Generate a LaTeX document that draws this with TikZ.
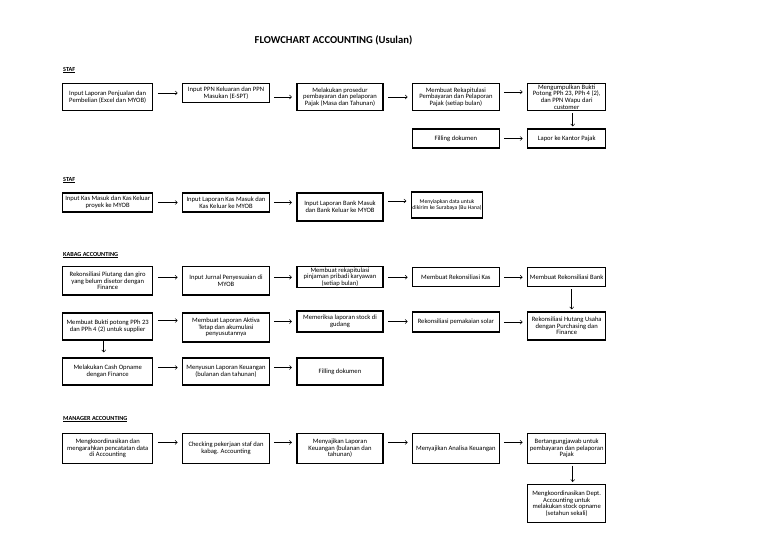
\documentclass[tikz,border=0pt]{standalone}
\usepackage{fontspec}
\setmainfont{Carlito}
\usetikzlibrary{arrows.meta}

\tikzset{
  box/.style={draw, line width=1.1pt, align=center, inner sep=1pt,
    font=\fontsize{6.6}{6.6}\selectfont},
  sz/.style 2 args={minimum width=#1pt, minimum height=#2pt},
  lane/.style={anchor=west, inner sep=0pt, font=\fontsize{6.2}{7}\selectfont\bfseries},
  vert/.style={shorten <=2pt, shorten >=2pt}
}

\begin{document}
\begin{tikzpicture}[x=1pt,y=-1pt]
        \useasboundingbox (0,0) rectangle (768,543);

        \node (title) at (333.5,40) {\fontsize{10.6}{12}\selectfont\bfseries FLOWCHART ACCOUNTING (Usulan)};

        \node[lane] (staf1)   at (63,70)  {\underline{STAF}};
        \node[lane] (staf2)   at (63,180) {\underline{STAF}};
        \node[lane] (kabag)   at (63,255) {\underline{KABAG ACCOUNTING}};
        \node[lane] (manager) at (63,419) {\underline{MANAGER ACCOUNTING}};

        \begin{scope}[every node/.style={box}]
          % staf pajak
          \node[sz={90}{27.4}] (A1) at (107.7,97) {Input Laporan Penjualan dan\\Pembelian (Excel dan MYOB)};
          \node[sz={86.6}{19.4}] (A2) at (226,93) {Input PPN Keluaran dan PPN\\Masukan (E-SPT)};
          \node[sz={86}{27.4}] (A3) at (340,97) {Melakukan prosedur\\pembayaran dan pelaporan\\Pajak (Masa dan Tahunan)};
          \node[sz={86.3}{27.4}] (A4) at (455.9,97) {Membuat Rekapitulasi\\Pembayaran dan Pelaporan\\Pajak (setiap bulan)};
          \node[sz={78}{27.4}] (A5) at (566.7,97) {Mengumpulkan Bukti\\Potong PPh 23, PPh 4 (2),\\dan PPN Wapu dari\\customer};
          \node[sz={86.3}{19}] (A6) at (455.9,138.5) {Filling dokumen};
          \node[sz={78}{19}] (A7) at (566.7,138.5) {Lapor ke Kantor Pajak};

          % staf kas dan bank
          \node[sz={90}{19}] (B1) at (107.7,202.5) {Input Kas Masuk dan Kas Keluar\\proyek ke MYOB};
          \node[sz={86.6}{19}] (B2) at (226,202.5) {Input Laporan Kas Masuk dan\\Kas Keluar ke MYOB};
          \node[sz={86}{28}] (B3) at (340,207) {Input Laporan Bank Masuk\\dan Bank Keluar ke MYOB};
          \node[sz={69.2}{26}, font=\fontsize{5.7}{6.4}\selectfont] (B4) at (447,205) {Menyiapkan data untuk\\dikirim ke Surabaya (Bu Hana)};

          % kabag
          \node[sz={90}{28.3}] (C1) at (107.7,280.8) {Rekonsiliasi Piutang dan giro\\yang belum disetor dengan\\Finance};
          \node[sz={86.6}{28.3}] (C2) at (226,280.8) {Input Jurnal Penyesuaian di\\MYOB};
          \node[sz={86}{21}] (C3) at (340,277.2) {Membuat rekapitulasi\\pinjaman pribadi karyawan\\(setiap bulan)};
          \node[sz={86.3}{19}] (C4) at (455.9,277.2) {Membuat Rekonsiliasi Kas};
          \node[sz={78}{19}] (C5) at (566.7,277.2) {Membuat Rekonsiliasi Bank};

          \node[sz={90}{27}] (D1) at (107.7,326.5) {Membuat Bukti potong PPh 23\\dan PPh 4 (2) untuk supplier};
          \node[sz={86.6}{29}] (D2) at (226,327.5) {Membuat Laporan Aktiva\\Tetap dan akumulasi\\penyusutannya};
          \node[sz={86}{21}] (D3) at (340,321.5) {Memeriksa laporan stock di\\gudang};
          \node[sz={86.3}{20}] (D4) at (455.9,322) {Rekonsiliasi pemakaian solar};
          \node[sz={78}{28}] (D5) at (566.7,326) {Rekonsiliasi Hutang Usaha\\dengan Purchasing dan\\Finance};

          \node[sz={90}{27}] (E1) at (107.7,371.5) {Melakukan Cash Opname\\dengan Finance};
          \node[sz={86.6}{27}] (E2) at (226,371.5) {Menyusun Laporan Keuangan\\(bulanan dan tahunan)};
          \node[sz={86}{27}] (E3) at (340,371.5) {Filling dokumen};

          % manager
          \node[sz={90}{29.3}] (F1) at (107.7,448.4) {Mengkoordinasikan dan\\mengarahkan pencatatan data\\di Accounting};
          \node[sz={86.6}{29.3}] (F2) at (226,448.4) {Checking pekerjaan staf dan\\kabag. Accounting};
          \node[sz={86}{29.3}] (F3) at (340,448.4) {Menyajikan Laporan\\Keuangan (bulanan dan\\tahunan)};
          \node[sz={86.3}{29.3}] (F4) at (455.9,448.4) {Menyajikan Analisa Keuangan};
          \node[sz={78}{29.3}] (F5) at (566.7,448.4) {Bertangungjawab untuk\\pembayaran dan pelaporan\\Pajak};
          \node[sz={78}{38}] (F6) at (566.7,503.6) {Mengkoordinasikan Dept.\\Accounting untuk\\melakukan stock opname\\(setahun sekali)};
        \end{scope}

        \begin{scope}[every edge/.style={draw, line width=.5pt,
            -{Straight Barb[length=2.2pt,width=4pt]}, shorten <=4.5pt, shorten >=4.5pt}]
          \path (A2.west -| A1.east) edge (A2.west);
          \path (A2.east |- A3.west) edge (A3.west);
          \path (A3) edge (A4);
          \path ([yshift=5pt]A4.east) edge ([yshift=5pt]A5.west);
          \path ([xshift=6pt]A5.south) edge[vert] ([xshift=6pt]A7.north);
          \path (A6) edge (A7);

          \path (B1) edge (B2);
          \path (B2.east) edge (B2.east -| B3.west);
          \path ([yshift=6pt]B3.east) edge ([yshift=6pt]B3.east -| B4.west);

          \path ([yshift=3.5pt]C1.east) edge ([yshift=3.5pt]C2.west);
          \path (C2.east |- C3.west) edge (C3.west);
          \path (C3) edge (C4);
          \path (C4) edge (C5);
          \path ([xshift=5pt]C5.south) edge[vert] ([xshift=5pt]D5.north);

          \path ([yshift=6pt]D1.east) edge ([yshift=6pt]D1.east -| D2.west);
          \path (D2.east |- D3.west) edge (D3.west);
          \path (D3.east) edge (D3.east -| D4.west);
          \path (D4.east) edge (D4.east -| D5.west);
          \path ([xshift=-4pt]D1.south) edge[vert, shorten <=0pt, shorten >=5pt] ([xshift=-4pt]E1.north);

          \path ([yshift=4pt]E1.east) edge ([yshift=4pt]E2.west);
          \path ([yshift=4pt]E2.east) edge ([yshift=4pt]E3.west);

          \path ([yshift=6pt]F1.east) edge ([yshift=6pt]F2.west);
          \path ([yshift=6pt]F2.east) edge ([yshift=6pt]F3.west);
          \path ([yshift=6pt]F3.east) edge ([yshift=6pt]F4.west);
          \path ([yshift=6pt]F4.east) edge ([yshift=6pt]F5.west);
          \path ([xshift=6pt]F5.south) edge[vert] ([xshift=6pt]F6.north);
        \end{scope}

      \end{tikzpicture}
\end{document}
